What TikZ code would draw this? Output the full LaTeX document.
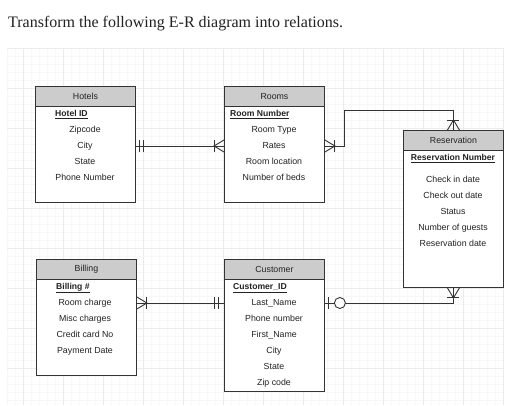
\documentclass[tikz,border=0pt]{standalone}
\usepackage{fontspec}
\setmainfont{Liberation Serif}
\setsansfont{Liberation Sans}
\usetikzlibrary{calc}
\definecolor{hdrgray}{RGB}{204,204,204}
\definecolor{edge}{RGB}{51,51,51}
\definecolor{txt}{RGB}{34,34,34}
\definecolor{gridminor}{RGB}{247,247,247}
\definecolor{gridmajor}{RGB}{236,236,236}
\begin{document}
\begin{tikzpicture}[x=1pt,y=-1pt,
  hdr/.style={draw=edge, fill=hdrgray, line width=0.9pt, minimum width=100pt, minimum height=20pt, inner sep=0pt, anchor=north west, font=\sffamily\fontsize{8.8}{10}\selectfont, text=txt},
  ebody/.style={draw=edge, fill=white, line width=0.9pt, minimum width=100pt, inner sep=0pt, anchor=north west},
  attr/.style={font=\sffamily\fontsize{8.8}{10}\selectfont, text=txt, inner sep=0pt, text height=6.5pt, text depth=2pt},
  keyattr/.style={attr, font=\sffamily\bfseries\fontsize{8.6}{10}\selectfont, anchor=west},
  conn/.style={draw=edge, line width=0.9pt},
  gmin/.style={draw=gridminor, line width=0.5pt},
  gmaj/.style={draw=gridmajor, line width=0.6pt}]
\useasboundingbox (0,0) rectangle (525,405);
\fill[white] (0,0) rectangle (525,405);
% grid
\foreach \x in {7,15,...,503} \draw[gmin] (\x,48) -- (\x,405);
\foreach \y in {48,56,...,404} \draw[gmin] (7,\y) -- (503,\y);
\foreach \x in {23,63,...,503} \draw[gmaj] (\x,48) -- (\x,405);
\foreach \y in {48,88,...,404} \draw[gmaj] (7,\y) -- (503,\y);
% title
\node[anchor=base west, inner sep=0pt, text=txt, font=\fontsize{16}{19}\selectfont] (title) at (8,27) {Transform the following E-R diagram into relations.};

% Hotels
\node[ebody, minimum height=96pt] (hotels) at (35,106) {};
\node[hdr] (hotelsH) at (35,86) {Hotels};
\node[keyattr] (hid) at (55,114) {\underline{Hotel ID}};
\node[attr] (hzip) at (85,130) {Zipcode};
\node[attr] (hcity) at (85,146) {City};
\node[attr] (hstate) at (85,162) {State};
\node[attr] (hphone) at (85,178) {Phone Number};

% Rooms
\node[ebody, minimum height=96pt] (rooms) at (224,106) {};
\node[hdr] (roomsH) at (224,86) {Rooms};
\node[keyattr] (rnum) at (230,114) {\underline{Room Number}};
\node[attr] (rtype) at (274,130) {Room Type};
\node[attr] (rrates) at (274,146) {Rates};
\node[attr] (rloc) at (274,162) {Room location};
\node[attr] (rbeds) at (274,178) {Number of beds};

% Reservation
\node[ebody, minimum height=137pt] (res) at (403,150) {};
\node[hdr] (resH) at (403,130) {Reservation};
\node[attr, font=\sffamily\bfseries\fontsize{8.6}{10}\selectfont] (resnum) at (453,158) {\underline{Reservation Number}};
\node[attr] (resin) at (453,180) {Check in date};
\node[attr] (resout) at (453,196) {Check out date};
\node[attr] (resstat) at (453,212) {Status};
\node[attr] (resguests) at (453,228) {Number of guests};
\node[attr] (resdate) at (453,244) {Reservation date};

% Billing
\node[ebody, minimum height=96pt] (bill) at (36,279) {};
\node[hdr] (billH) at (36,259) {Billing};
\node[keyattr] (bnum) at (56,287) {\underline{Billing \#}};
\node[attr] (broom) at (85,303) {Room charge};
\node[attr] (bmisc) at (85,319) {Misc charges};
\node[attr] (bcard) at (85,335) {Credit card No};
\node[attr] (bpay) at (85,351) {Payment Date};

% Customer
\node[ebody, minimum height=112pt] (cust) at (224,279) {};
\node[hdr] (custH) at (224,259) {Customer};
\node[keyattr] (cid) at (233,287) {\underline{Customer\_ID}};
\node[attr] (clast) at (274,303) {Last\_Name};
\node[attr] (cphone) at (274,319) {Phone number};
\node[attr] (cfirst) at (274,335) {First\_Name};
\node[attr] (ccity) at (274,351) {City};
\node[attr] (cstate) at (274,367) {State};
\node[attr] (czip) at (274,383) {Zip code};

% Hotels -- Rooms
\coordinate (hr1) at (hotels.east |- hcity);
\coordinate (hr2) at (rooms.west |- rrates);
\draw[conn] (hr1) -- (hr2);
\draw[conn] ($(hr1)+(4,-6)$) -- ++(0,12);
\draw[conn] ($(hr1)+(8,-6)$) -- ++(0,12);
\draw[conn] ($(hr2)+(-10,-6)$) -- ++(0,12);
\draw[conn] ($(hr2)+(0,-6)$) -- ($(hr2)+(-10,0)$) -- ($(hr2)+(0,6)$);

% Rooms -- Reservation
\coordinate (rr1) at (rooms.east |- rrates);
\coordinate (rr2) at (resH.north);
\coordinate (rrbend) at ($(rr2)+(0,-20)$);
\draw[conn] (rr1) -- ++(20,0) |- (rrbend) -- (rr2);
\draw[conn] ($(rr1)+(10,-6)$) -- ++(0,12);
\draw[conn] ($(rr1)+(0,-6)$) -- ($(rr1)+(10,0)$) -- ($(rr1)+(0,6)$);
\draw[conn] ($(rr2)+(-6,-10)$) -- ++(12,0);
\draw[conn] ($(rr2)+(-6,0)$) -- ($(rr2)+(0,-10)$) -- ($(rr2)+(6,0)$);

% Customer -- Reservation
\coordinate (cr1) at (cust.east |- clast);
\coordinate (cr2) at (res.south);
\draw[conn] (cr1) -- (cr2 |- cr1) -- (cr2);
\draw[conn] ($(cr1)+(4,-6)$) -- ++(0,12);
\draw[conn, fill=white] ($(cr1)+(15,0)$) circle (5.5);
\draw[conn] ($(cr2)+(-6,10)$) -- ++(12,0);
\draw[conn] ($(cr2)+(-6,0)$) -- ($(cr2)+(0,10)$) -- ($(cr2)+(6,0)$);

% Billing -- Customer
\coordinate (bc1) at (bill.east |- broom);
\coordinate (bc2) at (cust.west |- clast);
\draw[conn] (bc1) -- (bc2);
\draw[conn] ($(bc1)+(10,-6)$) -- ++(0,12);
\draw[conn] ($(bc1)+(0,-6)$) -- ($(bc1)+(10,0)$) -- ($(bc1)+(0,6)$);
\draw[conn] ($(bc2)+(-10,-6)$) -- ++(0,12);
\draw[conn] ($(bc2)+(-6,-6)$) -- ++(0,12);
\end{tikzpicture}
\end{document}
